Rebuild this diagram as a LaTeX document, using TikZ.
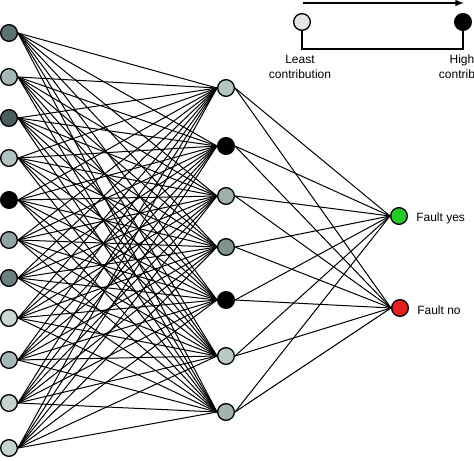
\documentclass[tikz,border=0pt]{standalone}
\usepackage{fontspec}
\setmainfont{Liberation Sans}
\usepackage{xcolor}
\usepackage{tikz}

\definecolor{inA}{RGB}{92,114,114}
\definecolor{inB}{RGB}{166,184,182}
\definecolor{inC}{RGB}{74,94,96}
\definecolor{inD}{RGB}{178,196,194}
\definecolor{inF}{RGB}{143,163,161}
\definecolor{inG}{RGB}{107,129,128}
\definecolor{inH}{RGB}{204,216,214}
\definecolor{inI}{RGB}{165,183,181}
\definecolor{inJ}{RGB}{196,210,208}
\definecolor{hidA}{RGB}{180,198,196}
\definecolor{hidC}{RGB}{158,176,174}
\definecolor{hidD}{RGB}{127,147,145}
\definecolor{hidF}{RGB}{184,200,198}
\definecolor{hidG}{RGB}{162,180,178}
\definecolor{leastgray}{RGB}{226,230,228}
\definecolor{faultyes}{RGB}{34,204,34}
\definecolor{faultno}{RGB}{230,30,30}

\begin{document}
\begin{tikzpicture}[x=0.75pt,y=0.75pt,yscale=-1,xscale=1,
  neuron/.style={circle,draw,line width=1,inner sep=0pt,minimum size=12.5pt},
  wire/.style={line width=0.75},
  lbl/.style={inner sep=0.75pt,font=\fontsize{9}{11.3}\selectfont}]
\useasboundingbox (0,0) rectangle (474,460);
\clip (0,0) rectangle (474,460);

%Shape: input layer
\foreach \y/\c [count=\i] in {33/inA,77/inB,118/inC,158/inD,200/black,240/inF,278/inG,318/inH,360/inI,403/inJ,448/inJ}
  \node [neuron,fill=\c] (in\i) at (9,\y) {};

%Shape: hidden layer
\foreach \y/\c [count=\j] in {88/hidA,146/black,196/hidC,247/hidD,300/black,356/hidF,412/hidG}
  \node [neuron,fill=\c] (hid\j) at (226,\y) {};

%Shape: output layer
\node [neuron,fill=faultyes] (yes) at (399,216) {};
\node [neuron,fill=faultno] (no) at (400,308) {};

%Straight Lines: input to hidden
\foreach \i in {1,...,11}
  \foreach \j in {1,...,7}
    \draw [wire] (in\i.east) -- (hid\j.west);

%Straight Lines: hidden to output
\foreach \j in {1,...,7}{
  \draw [wire] (hid\j.east) -- (yes.west);
  \draw [wire] (hid\j.east) -- (no.west);
}

% Text Node
\node [lbl,anchor=west] (yeslbl) at (415,218) {Fault yes};
% Text Node
\node [lbl,anchor=west] (nolbl) at (416,310) {Fault no};

%Shape: legend
\node [neuron,fill=leastgray] (least) at (302,22) {};
\node [neuron,fill=black] (most) at (463,22) {};
\coordinate (arrowstart) at (303,3);
\coordinate (arrowend) at (464,3);
\draw [line width=1.2,-latex] (arrowstart) -- (arrowend);
\draw [line width=1] (least.south) -- ++(0,18) -| (most.south);

% Text Node
\node [lbl,align=center] (leastlbl) at (300,67) {Least\\contribution};
% Text Node
\node [lbl,align=center] (mostlbl) at (470,67) {Highest\\contribution};

\end{tikzpicture}
\end{document}
